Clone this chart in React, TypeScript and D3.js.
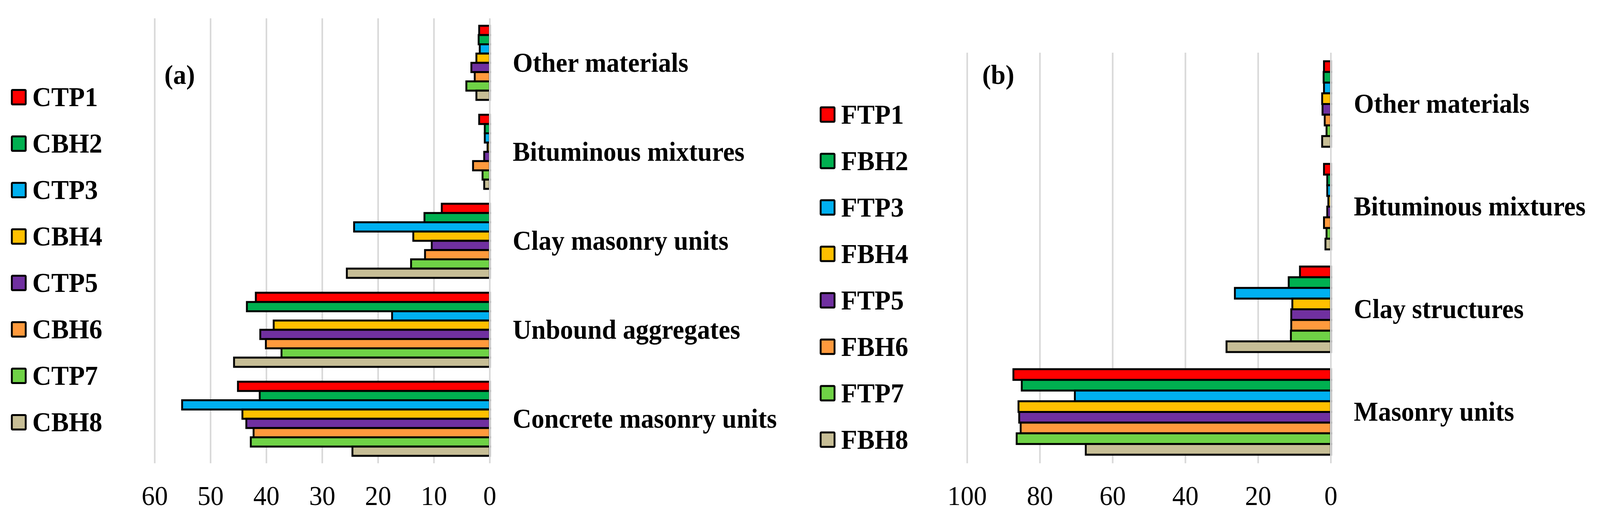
import * as d3 from "d3";
import * as React from "react";

// series names and colours
const seriesA = ["CTP1", "CBH2", "CTP3", "CBH4", "CTP5", "CBH6", "CTP7", "CBH8"];
const seriesB = ["FTP1", "FBH2", "FTP3", "FBH4", "FTP5", "FBH6", "FTP7", "FBH8"];
const colours = ["#FF0000", "#00B050", "#00B0F0", "#FFC000", "#7030A0", "#FF9A3D", "#6FD246", "#C7BE96"];

// panel (a) categories, top to bottom
const categoriesA = ["Other materials", "Bituminous mixtures", "Clay masonry units", "Unbound aggregates", "Concrete masonry units"];
const otherA = [1.9, 2.0, 1.8, 2.4, 3.3, 2.7, 4.2, 2.4];
const bitumA = [1.9, 0.9, 0.9, 0.4, 1.0, 3.0, 1.3, 1.0];
const clayA = [8.6, 11.7, 24.3, 13.7, 10.4, 11.6, 14.1, 25.6];
const unboundA = [41.9, 43.5, 17.5, 38.7, 41.1, 40.1, 37.3, 45.8];
const concreteA = [45.1, 41.2, 55.1, 44.3, 43.6, 42.3, 42.8, 24.6];

// panel (b) categories, top to bottom
const categoriesB = ["Other materials", "Bituminous mixtures", "Clay structures", "Masonry units"];
const otherB = [1.9, 2.0, 1.9, 2.4, 2.3, 1.7, 1.2, 2.4];
const bitumB = [1.9, 1.0, 1.0, 0.7, 1.0, 1.9, 1.2, 1.5];
const clayB = [8.5, 11.6, 26.4, 10.6, 10.9, 10.9, 11.0, 28.7];
const masonryB = [87.3, 85.0, 70.4, 85.9, 85.7, 85.3, 86.4, 67.4];

const W = 4263;
const H = 1358;
const FONT = "'Liberation Serif', 'Times New Roman', serif";
const GRID = "#D9D9D9";

interface PanelProps {
    tag: string;
    series: string[];
    categories: string[];
    values: number[][];
    maxValue: number;
    tickStep: number;
    zeroX: number;
    maxX: number;
    top: number;
    bottom: number;
    legendX: number;
    legendY: number;
    tagX: number;
}

function Panel(props: PanelProps): JSX.Element {
    const x = d3.scaleLinear().domain([0, props.maxValue]).range([props.zeroX, props.maxX]);
    const y = d3.scaleBand<string>()
        .domain(props.categories)
        .range([props.top, props.bottom])
        .paddingInner(0.167)
        .paddingOuter(0.0835);
    const ys = d3.scaleBand<string>().domain(props.series).range([0, y.bandwidth()]);
    const ticks = d3.range(0, props.maxValue + props.tickStep / 2, props.tickStep);

    return (
        <g>
            {ticks.filter(t => t > 0).map(t => (
                <line key={"g" + t} x1={x(t)} x2={x(t)} y1={props.top} y2={props.bottom}
                    stroke={GRID} strokeWidth={4.3} />
            ))}
            {props.categories.map((c, ci) => (
                <g key={c}>
                    {props.series.map((s, si) => {
                        const v = props.values[ci][si];
                        return (
                            <rect key={s}
                                x={x(v)} width={x(0) - x(v)}
                                y={(y(c) as number) + (ys(s) as number)} height={ys.bandwidth()}
                                fill={colours[si]} stroke="#000" strokeWidth={5} />
                        );
                    })}
                </g>
            ))}
            {/* the value axis line sits on top of the bars, in grid grey */}
            <line x1={x(0)} x2={x(0)} y1={props.top} y2={props.bottom} stroke={GRID} strokeWidth={4.3} />
            {ticks.map(t => (
                <text key={"t" + t} x={x(t)} y={1294} textAnchor="middle"
                    fontFamily={FONT} fontSize={70}>{t}</text>
            ))}
            {props.categories.map(c => (
                <text key={"c" + c} x={x(0) + 61} y={(y(c) as number) + y.bandwidth() / 2} dy="0.33em"
                    fontFamily={FONT} fontWeight="bold" fontSize={69}>{c}</text>
            ))}
            {props.series.map((s, si) => {
                const cy = props.legendY + si * 119;
                return (
                    <g key={"l" + s}>
                        <rect x={props.legendX + 2.5} y={cy - 18.5} width={37} height={37} rx={2}
                            fill={colours[si]} stroke="#000" strokeWidth={5} />
                        <text x={props.legendX + 57} y={cy} dy="0.33em"
                            fontFamily={FONT} fontWeight="bold" fontSize={70}>{s}</text>
                    </g>
                );
            })}
            <text x={props.tagX} y={215} fontFamily={FONT} fontWeight="bold" fontSize={70}>{props.tag}</text>
        </g>
    );
}

export default function App(): JSX.Element {
    // the page is narrower than the figure, so the drawing is scaled to fill it
    return (
        <svg viewBox={`0 0 ${W} ${H}`} preserveAspectRatio="none"
            style={{ position: "absolute", left: 0, top: 0, width: "100vw", height: "100vh", display: "block" }}>
            <rect width={W} height={H} fill="#fff" />
            <Panel tag="(a)" series={seriesA} categories={categoriesA}
                values={[otherA, bitumA, clayA, unboundA, concreteA]}
                maxValue={60} tickStep={10} zeroX={1305} maxX={412.3}
                top={47} bottom={1187} legendX={29} legendY={249} tagX={438} />
            <Panel tag="(b)" series={seriesB} categories={categoriesB}
                values={[otherB, bitumB, clayB, masonryB]}
                maxValue={100} tickStep={20} zeroX={3546} maxX={2577}
                top={135} bottom={1187} legendX={2184} legendY={293.5} tagX={2617} />
        </svg>
    );
}
